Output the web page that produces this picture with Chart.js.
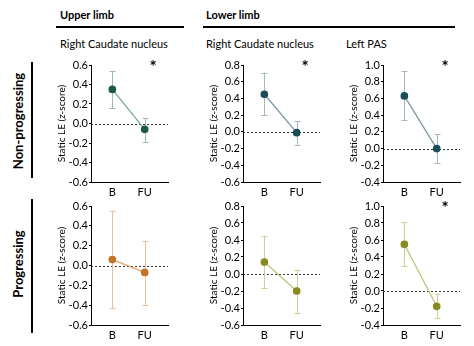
<!DOCTYPE html>
<html>
<head>
<meta charset="utf-8">
<script src="https://cdn.jsdelivr.net/npm/chart.js@4"></script>
<style>
  body { margin: 0; background: #fff; font-family: Lato, "Open Sans", sans-serif; color: #000; }
  #wrap { position: relative; width: 474px; height: 346px; overflow: hidden; }
  .abs { position: absolute; white-space: nowrap; }
  .hdr { font-size: 11px; font-weight: bold; line-height: 13px; }
  .sub { font-size: 11px; line-height: 14px; }
  .rule { position: absolute; background: #000; }
  .row { font-size: 13px; font-weight: bold; transform: translate(-50%, -50%) rotate(-90deg); }
  .star { font-size: 17px; font-weight: bold; line-height: 16px; transform: translate(-50%, -35%); }
  canvas { position: absolute; }
</style>
</head>
<body>
<div id="wrap">
  <div class="abs hdr" style="left:60px;top:8px">Upper limb</div>
  <div class="abs hdr" style="left:206px;top:8px">Lower limb</div>
  <div class="rule" style="left:56px;top:26px;width:128px;height:2px"></div>
  <div class="rule" style="left:203px;top:26px;width:252px;height:2px"></div>
  <div class="abs sub" style="left:60px;top:37px">Right Caudate nucleus</div>
  <div class="abs sub" style="left:206px;top:37px">Right Caudate nucleus</div>
  <div class="abs sub" style="left:346px;top:37px">Left PAS</div>

  <div class="rule" style="left:31px;top:62px;width:2px;height:116px"></div>
  <div class="rule" style="left:31px;top:199px;width:2px;height:134px"></div>
  <div class="abs row" style="left:18px;top:121px">Non-progressing</div>
  <div class="abs row" style="left:18px;top:264px">Progressing</div>
</div>
<script>
// timepoints
const timepoints = ['B', 'FU'];

// Non-progressing group: mean and error bar ends
const npUpperCaudate = [0.35, -0.06];
const npUpperCaudateLo = [0.16, -0.19];
const npUpperCaudateHi = [0.54, 0.06];

const npLowerCaudate = [0.45, -0.01];
const npLowerCaudateLo = [0.20, -0.16];
const npLowerCaudateHi = [0.71, 0.13];

const npLowerPAS = [0.63, 0.00];
const npLowerPASLo = [0.34, -0.17];
const npLowerPASHi = [0.93, 0.17];

// Progressing group
const pUpperCaudate = [0.06, -0.07];
const pUpperCaudateLo = [-0.43, -0.40];
const pUpperCaudateHi = [0.55, 0.25];

const pLowerCaudate = [0.14, -0.20];
const pLowerCaudateLo = [-0.17, -0.46];
const pLowerCaudateHi = [0.45, 0.05];

const pLowerPAS = [0.55, -0.18];
const pLowerPASLo = [0.29, -0.32];
const pLowerPASHi = [0.81, -0.04];

// y ranges per column
const yRanges = [[-0.6, 0.6], [-0.6, 0.8], [-0.4, 1.0]];

const FONT = 'Lato, "Open Sans", sans-serif';
const Y_W = 35, X_H = 22, PAD_T = 8, PAD_R = 8, PLOT_W = 77;

// error bars and the dotted zero line
const errorBars = {
  id: 'errorBars',
  beforeDatasetsDraw(chart) {
    const { ctx, chartArea, scales: { x, y } } = chart;
    const y0 = y.getPixelForValue(0);
    ctx.save();
    ctx.strokeStyle = '#333';
    ctx.lineWidth = 1;
    ctx.setLineDash([2, 2]);
    ctx.beginPath();
    ctx.moveTo(chartArea.left, Math.round(y0) + 0.5);
    ctx.lineTo(chartArea.right, Math.round(y0) + 0.5);
    ctx.stroke();
    ctx.setLineDash([]);

    chart.data.datasets.forEach(ds => {
      ctx.strokeStyle = ds.errColor;
      ctx.lineWidth = 1;
      ds.data.forEach((pt, i) => {
        const px = Math.round(x.getPixelForValue(pt.x)) + 0.5;
        const top = y.getPixelForValue(ds.hi[i]);
        const bot = y.getPixelForValue(ds.lo[i]);
        ctx.beginPath();
        ctx.moveTo(px, top); ctx.lineTo(px, bot);
        ctx.moveTo(px - 3, Math.round(top) + 0.5); ctx.lineTo(px + 3, Math.round(top) + 0.5);
        ctx.moveTo(px - 3, Math.round(bot) + 0.5); ctx.lineTo(px + 3, Math.round(bot) + 0.5);
        ctx.stroke();
      });
    });
    ctx.restore();
  }
};

function makePanel(left, top, plotH, range, mean, lo, hi, colors, star) {
  const canvas = document.createElement('canvas');
  const w = Y_W + PLOT_W + PAD_R;
  const h = PAD_T + plotH + X_H;
  canvas.width = w; canvas.height = h;
  canvas.style.left = (left - Y_W) + 'px';
  canvas.style.top = (top - PAD_T) + 'px';
  canvas.style.width = w + 'px';
  canvas.style.height = h + 'px';
  document.getElementById('wrap').appendChild(canvas);

  new Chart(canvas.getContext('2d'), {
    type: 'line',
    data: {
      datasets: [{
        data: mean.map((v, i) => ({ x: i, y: v })),
        lo, hi,
        errColor: colors.err,
        borderColor: colors.line,
        borderWidth: 1.3,
        pointBackgroundColor: colors.point,
        pointBorderColor: colors.point,
        pointRadius: 3.2,
        tension: 0
      }]
    },
    options: {
      responsive: false,
      animation: false,
      devicePixelRatio: 1,
      layout: { padding: { top: PAD_T, right: PAD_R, left: 0, bottom: 0 } },
      plugins: { legend: { display: false }, tooltip: { enabled: false } },
      scales: {
        x: {
          type: 'linear',
          min: -0.66, max: 1.72,
          afterBuildTicks: s => { s.ticks = timepoints.map((_, i) => ({ value: i })); },
          afterFit: s => { s.height = X_H; },
          ticks: { callback: v => timepoints[v], color: '#000', padding: 1, font: { family: FONT, size: 11 } },
          grid: { display: false, drawTicks: true, tickLength: 3 },
          border: { display: true, color: '#000', width: 1 }
        },
        y: {
          min: range[0], max: range[1],
          afterBuildTicks: s => {
            const t = [];
            for (let k = Math.round(range[0] * 5); k <= Math.round(range[1] * 5); k++) t.push({ value: k / 5 });
            s.ticks = t;
          },
          afterFit: s => { s.width = Y_W; },
          ticks: { callback: v => v.toFixed(1), color: '#000', padding: 1, font: { family: FONT, size: 11 } },
          grid: { display: true, drawOnChartArea: false, tickLength: 2, color: '#000' },
          border: { display: true, color: '#000', width: 1 },
          title: { display: true, text: 'Static LE (z-score)', color: '#000', padding: 0, font: { family: FONT, size: 10 } }
        }
      }
    },
    plugins: [errorBars]
  });

  if (star) {
    const s = document.createElement('div');
    s.className = 'abs star';
    s.textContent = '*';
    s.style.left = (left + 62) + 'px';
    s.style.top = top + 'px';
    document.getElementById('wrap').appendChild(s);
  }
}

const greenTop = { point: '#1d5a46', line: '#7aa99c', err: '#9dbdb4' };
const tealTop = { point: '#1b4d58', line: '#7b98a2', err: '#a3b9c0' };
const orange = { point: '#c47428', line: '#e3a56c', err: '#e8c09a' };
const olive = { point: '#898a1e', line: '#c3c27c', err: '#cfcf98' };

const cols = [91, 243, 383];

makePanel(cols[0], 65, 117, yRanges[0], npUpperCaudate, npUpperCaudateLo, npUpperCaudateHi, greenTop, true);
makePanel(cols[1], 65, 117, yRanges[1], npLowerCaudate, npLowerCaudateLo, npLowerCaudateHi, tealTop, true);
makePanel(cols[2], 65, 117, yRanges[2], npLowerPAS, npLowerPASLo, npLowerPASHi, tealTop, true);

makePanel(cols[0], 206, 119, yRanges[0], pUpperCaudate, pUpperCaudateLo, pUpperCaudateHi, orange, false);
makePanel(cols[1], 206, 119, yRanges[1], pLowerCaudate, pLowerCaudateLo, pLowerCaudateHi, olive, false);
makePanel(cols[2], 206, 119, yRanges[2], pLowerPAS, pLowerPASLo, pLowerPASHi, olive, true);
</script>
</body>
</html>
